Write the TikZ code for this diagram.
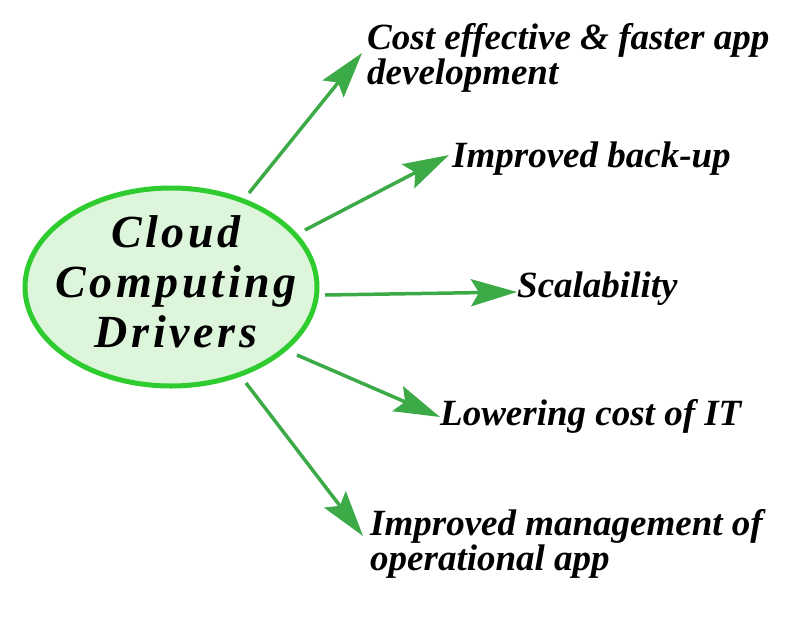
\documentclass[tikz,border=0pt]{standalone}
\usepackage{fontspec}
\setmainfont{Liberation Serif}
\usetikzlibrary{arrows.meta}
\usetikzlibrary{shapes.geometric}
\usepackage{xcolor}
\definecolor{ringgreen}{HTML}{2ECC2E}
\definecolor{fillgreen}{HTML}{DDF5DA}
\definecolor{arrgreen}{HTML}{3BAA47}

\begin{document}
\begin{tikzpicture}[x=1pt,y=-1pt,
  every node/.style={inner sep=0pt},
  driver/.style={anchor=base west,align=left,font=\fontsize{37}{27}\selectfont\bfseries\itshape},
  push/.style={draw=arrgreen,line width=3.5pt,-{Stealth[length=46pt,width=27pt,inset=8pt]}}]
  \useasboundingbox (0,0) rectangle (800,624);
  \node [ellipse,draw=ringgreen,fill=fillgreen,line width=5pt,minimum width=292pt,minimum height=198pt](cloud) at (171,287) {};
    \node [align=center,anchor=base,font=\fontsize{46}{50}\selectfont\bfseries\itshape\addfontfeature{LetterSpace=8}](title) at (176,347) {Cloud\\Computing\\Drivers};
    \node [driver](cost) at (367,84) {Cost effective \& faster app\\development};
    \node [driver](backup) at (452,167) {Improved back-up};
    \node [driver](scale) at (517,297) {Scalability};
    \node [driver](lower) at (440,425) {Lowering cost of IT};
    \node [driver](manage) at (370,570) {Improved management of\\operational app};
    % arrows leave just outside the ellipse
    \coordinate (s1) at (249,193);
    \coordinate (s2) at (305,230);
    \coordinate (s3) at (325,295);
    \coordinate (s4) at (297,355);
    \coordinate (s5) at (246,383);
    \draw [push] (s1) -- ([shift={(-5,-31)}]cost.base west);
    \draw [push] (s2) -- ([shift={(-3,-12)}]backup.base west);
    \draw [push] (s3) -- ([shift={(0,-5)}]scale.base west);
    \draw [push] (s4) -- ([shift={(0,-8)}]lower.base west);
    \draw [push] (s5) -- ([shift={(-7,-34)}]manage.base west);
\end{tikzpicture}
\end{document}
